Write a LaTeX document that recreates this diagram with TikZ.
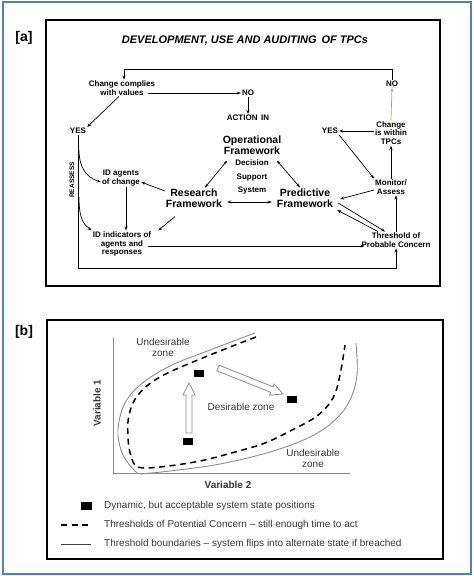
\documentclass[tikz,border=0pt]{standalone}
\usepackage{fontspec}
\setmainfont{Liberation Sans}
\usetikzlibrary{arrows.meta}
\definecolor{frameblue}{RGB}{79, 129, 189}
\definecolor{tanline}{RGB}{196, 152, 112}
\definecolor{textgray}{RGB}{55, 55, 55}
\definecolor{linegray}{RGB}{140, 140, 140}

\tikzset{
  lbl/.style={font=\fontsize{8}{8.6}\selectfont\bfseries, align=center, inner sep=1pt},
  big/.style={font=\fontsize{10.5}{11}\selectfont\bfseries, align=center, inner sep=1pt},
  dsslbl/.style={font=\fontsize{8}{13.5}\selectfont\bfseries, align=center, inner sep=1pt},
  arr/.style={-{Stealth[length=4pt,width=3pt]}, line width=0.7pt},
  dblarr/.style={{Stealth[length=4pt,width=3pt]}-{Stealth[length=4pt,width=3pt]}, line width=0.7pt},
  zone/.style={font=\fontsize{10}{11}\selectfont, text=textgray, align=center, inner sep=1pt},
  legend/.style={font=\fontsize{10}{11}\selectfont, text=textgray, anchor=west, inner sep=1pt},
  state/.style={fill=black, minimum width=10pt, minimum height=7pt, inner sep=0pt},
  hollow/.style={draw=linegray, fill=white, line width=0.8pt},
  tpc/.style={dash pattern=on 6pt off 4.5pt, line width=1.5pt},
  bound/.style={draw=linegray, line width=0.9pt}
}

\begin{document}
\begin{tikzpicture}[x=1pt, y=-1pt]
\useasboundingbox (0,0) rectangle (474,576);
\draw[frameblue, line width=2.2pt] (3,2) rectangle (471,574);

\draw[line width=2pt] (46,20) rectangle (440,286);
\node[font=\fontsize{14}{14}\selectfont\bfseries] (tagA) at (24,38) {[a]};
\node[font=\fontsize{11}{11}\selectfont\bfseries\itshape] (title) at (245,41) {DEVELOPMENT, USE AND AUDITING \,OF TPCs};

\node[lbl]     (comply)   at (122, 88) {Change complies\\with values};
\node[lbl]     (noA)      at (248, 93) {NO};
\node[lbl]     (action)   at (248,118) {ACTION \,IN};
\node[lbl]     (yesL)     at ( 78,131) {YES};
\node[lbl]     (noB)      at (392, 84) {NO};
\node[lbl]     (within)   at (391,133) {Change\\is within\\TPCs};
\node[lbl]     (yesR)     at (330,131) {YES};
\node[big]     (oper)     at (252,145) {Operational\\Framework};
\node[dsslbl]  (dss)      at (252,177) {Decision\\Support\\System};
\node[big]     (research) at (194,198) {Research\\Framework};
\node[big]     (predict)  at (305,198) {Predictive\\Framework};
\node[lbl]     (agents)   at (121,178) {ID agents\\of change};
\node[lbl]     (indic)    at (122,244) {ID indicators of\\agents and\\responses};
\node[lbl]     (monitor)  at (391,187) {Monitor/\\Assess};
\node[lbl]     (thresh)   at (396,240) {Threshold of\\Probable Concern};
\node[font=\fontsize{6.5}{7}\selectfont\bfseries, rotate=90] (reassess) at (72,180) {REASSESS};

\coordinate (top)  at (124, 69);
\coordinate (base) at ( 79,268);
\coordinate (rA)   at ( 79,150);
\coordinate (rB)   at ( 79,197);

\draw[arr] ([xshift=-8pt]noA.west -| comply.east) -- (noA.west);
\draw[arr] (noA.south) -- (action.north);
\draw[arr] (comply.250) -- (yesL.north east);
\draw[arr] (noB.north) |- (top) -- (top |- comply.north);
\draw[arr, tanline] (within.north) -- (noB.south);
\draw[arr] (within.west |- yesR.east) -- (yesR.east);
\draw[arr] (yesR.south east) -- (monitor.north west);
\draw[arr] (monitor.north) -- (monitor.north |- within.south);
\draw[arr] (thresh.north) -- (thresh.north |- monitor.south);
\draw[arr] ([yshift=-3pt]monitor.west) -- ([xshift=6pt,yshift=-1pt]predict.east);
\draw[arr] ([xshift=4pt,yshift=-5pt]predict.east) -- ([xshift=-11pt]thresh.north);
\draw[arr] ([xshift=-18pt]thresh.north) -- ([xshift=3pt,yshift=-12pt]predict.east);
\draw[dblarr] ([xshift=4pt,yshift=-4pt]research.east) -- ([xshift=-4pt,yshift=-4pt]predict.west);
\draw[dblarr] ([xshift=-7pt,yshift=-2pt]dss.north west) -- ([xshift=11pt]research.north);
\draw[dblarr] ([xshift=7pt,yshift=-2pt]dss.north east) -- ([xshift=-5pt]predict.north);
\draw[arr] ([yshift=7pt]research.west) -- ([yshift=-4pt]agents.east);
\draw[arr] ([xshift=5pt]agents.south) -- ([xshift=5pt]agents.south |- indic.north);
\draw[arr] ([shift={(-19,8)}]research.south) -- ([xshift=6pt]indic.north east);
\draw[arr] ([shift={(-4,2)}]indic.east) -- ([shift={(4,2)}]indic.east -| thresh.west);
\draw[arr] (yesL.south) -- (yesL.south |- base) -| (thresh.south);
\draw[arr] (rA) .. controls +(0,22) and +(-10,-3) .. ([yshift=-4pt]agents.west);
\draw[arr] (rB) .. controls +(0,22) and +(-8,-6) .. (indic.north west);

\draw[line width=2pt] (47,320) rectangle (443,559);
\node[font=\fontsize{14}{14}\selectfont\bfseries] (tagB) at (24,332) {[b]};

\draw[linegray, line width=0.8pt] (113,338) -- (113,473) -- (350,473);
\draw[bound] plot[smooth, tension=0.6] coordinates {(255,333) (210,350) (170,366) (140,385) (124,405) (118,430) (121,450) (128,463) (137,473)};
\draw[bound] plot[smooth, tension=0.6] coordinates {(356,343) (357,375) (350,400) (335,420) (310,437) (270,452) (220,464) (170,471) (140,474)};
\draw[tpc] plot[smooth, tension=0.6] coordinates {(256,337) (205,357) (160,377) (138,395) (129,415) (128,438) (131,456) (138,467) (160,467) (200,461) (235,452) (265,443) (292,430) (317,416) (333,398) (340,375) (345,345)};

\node[zone] (undesA) at (163,347) {Undesirable\\zone};
\node[zone] (desir)  at (241,407) {Desirable zone};
\node[zone] (undesB) at (313,458) {Undesirable\\zone};
\node[zone, font=\fontsize{10}{11}\selectfont\bfseries, rotate=90] (var1) at (97,403) {Variable 1};
\node[zone, font=\fontsize{10}{11}\selectfont\bfseries] (var2) at (228,485) {Variable 2};

\node[state] (s1) at (199,373) {};
\node[state] (s2) at (292,399) {};
\node[state] (s3) at (188,441) {};

\begin{scope}[shift={(189,433)}, rotate=90]
  \draw[hollow] (0,-3) -- (38,-3) -- (38,-6) -- (50,0) -- (38,6) -- (38,3) -- (0,3) -- cycle;
\end{scope}
\begin{scope}[shift={(218,368)}, rotate=-21.8]
  \draw[hollow] (0,-3) -- (58,-3) -- (58,-6) -- (70,0) -- (58,6) -- (58,3) -- (0,3) -- cycle;
\end{scope}

\node[state, minimum width=11pt, minimum height=8pt] (key1) at (86,506) {};
\coordinate (k2a) at (61,525);
\coordinate (k3a) at (61,544);
\draw[tpc] (k2a) -- ++(30,0);
\draw[black!75, line width=1pt] (k3a) -- ++(30,0);
\node[legend] (t1) at (103,506) {Dynamic, but acceptable system state positions};
\node[legend] (t2) at (103,525) {Thresholds of Potential Concern – still enough time to act};
\node[legend] (t3) at (103,544) {Threshold boundaries – system flips into alternate state if breached};
\end{tikzpicture}
\end{document}
